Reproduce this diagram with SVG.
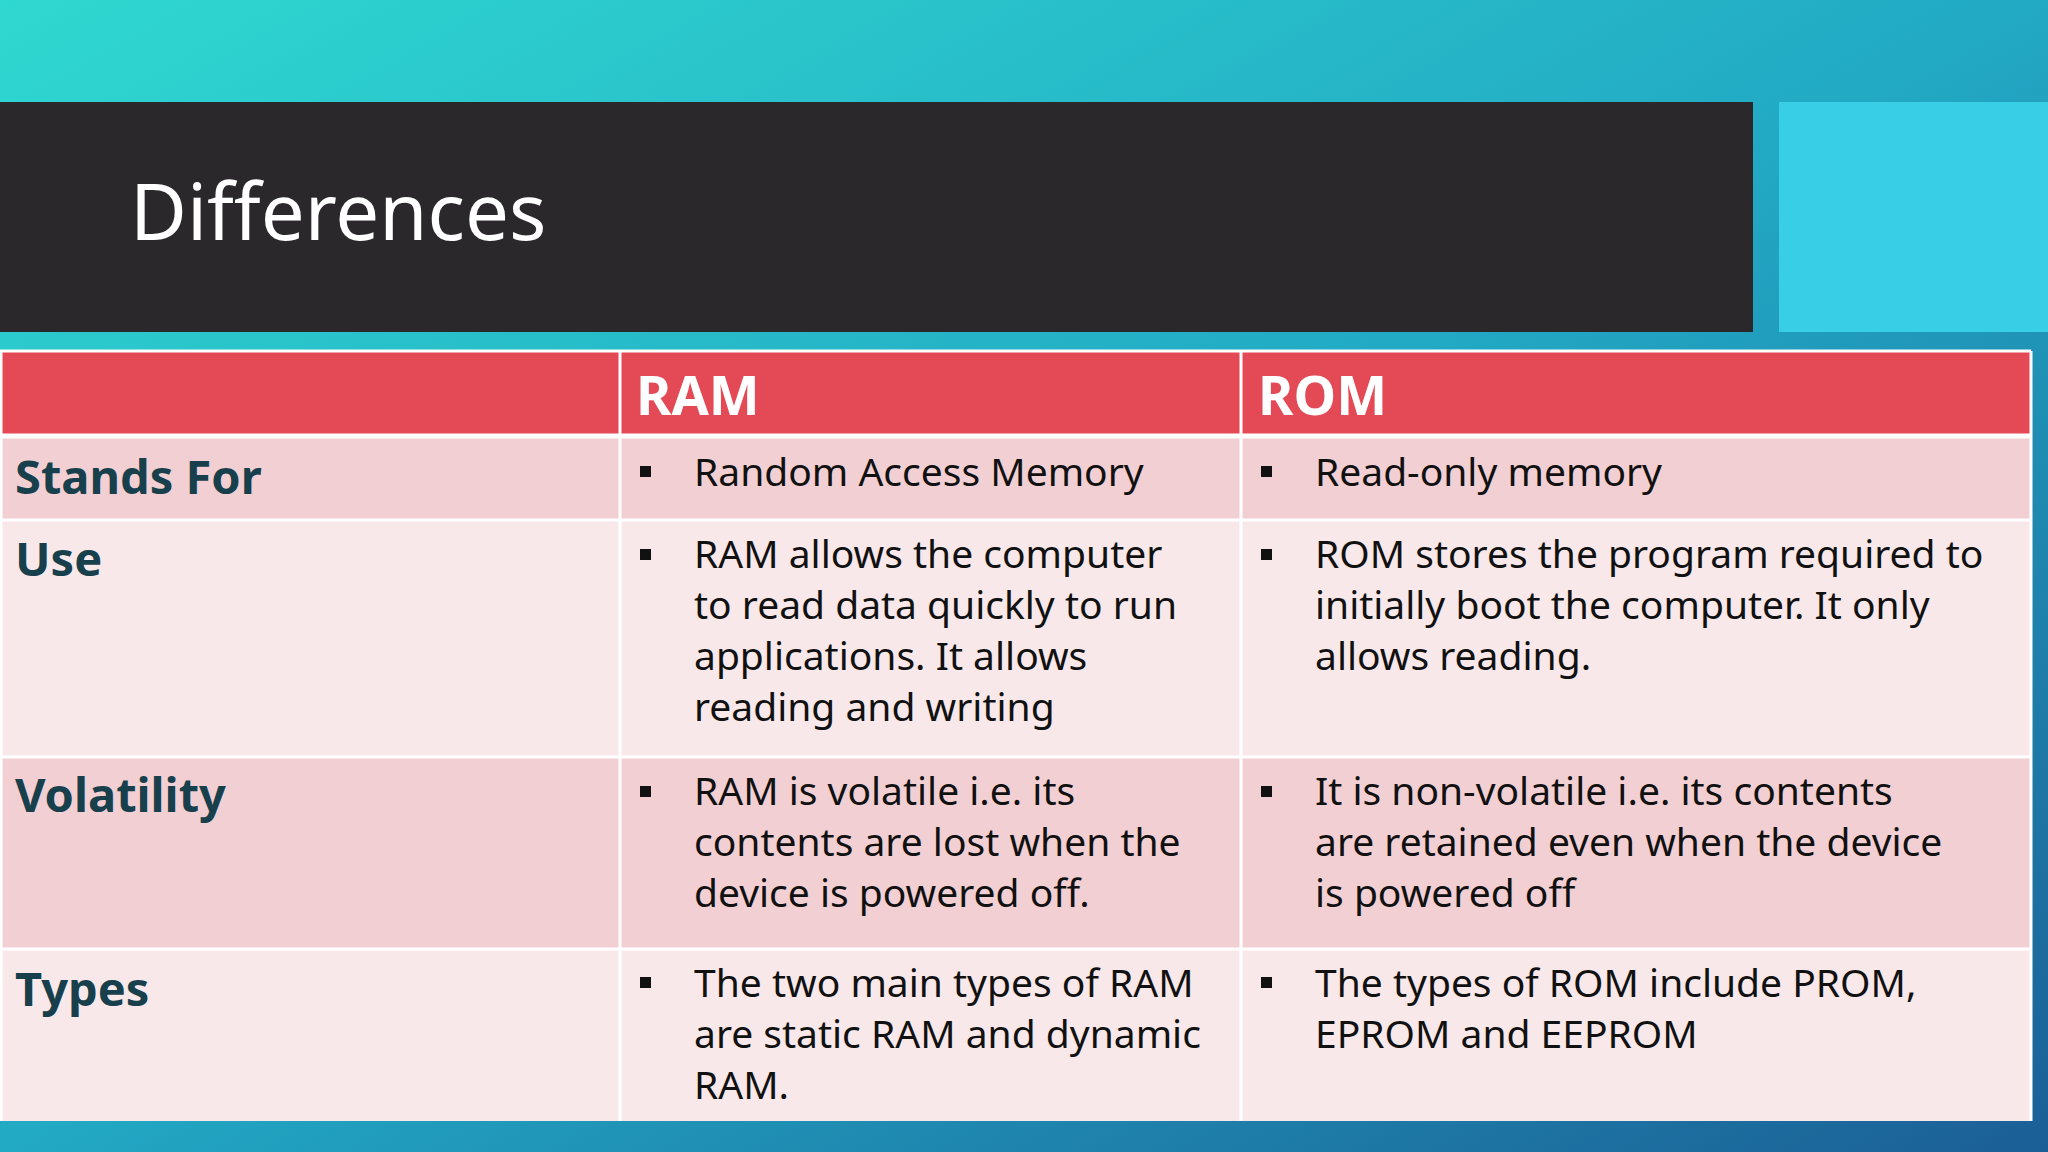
<svg xmlns="http://www.w3.org/2000/svg" width="2048" height="1152" viewBox="0 0 2048 1152">
<defs>
<linearGradient id="bg" x1="0" y1="0" x2="1" y2="1">
<stop offset="0" stop-color="#2fd8d0"/><stop offset="0.5" stop-color="#22a9c4"/><stop offset="1" stop-color="#1b5f96"/>
</linearGradient>
<style>
.b{font-family:"Noto Sans","DejaVu Sans",sans-serif;font-size:39px;fill:#111}
.l{font-family:"Noto Sans","DejaVu Sans",sans-serif;font-size:47px;font-weight:bold;fill:#173f4c}
.h{font-family:"Noto Sans","DejaVu Sans",sans-serif;font-size:54px;font-weight:bold;fill:#fff}
.sq{fill:#111}
.ln{stroke:#fff;stroke-width:3}
</style>
</defs>
<rect width="2048" height="1152" fill="url(#bg)"/>
<g id="title"><rect x="0" y="102" width="1753" height="230" fill="#2a282b"/>
<text x="130" y="240" font-family="Noto Sans,DejaVu Sans,sans-serif" font-size="78" fill="#fff">Differences</text></g>
<g id="square"><rect x="1779" y="102" width="269" height="230" fill="#38cfe6"/></g>
<g id="table">
<rect x="0" y="351" width="2031" height="85" fill="#e34a55"/>
<rect x="0" y="436" width="2031" height="84" fill="#f2cfd3"/>
<rect x="0" y="520" width="2031" height="237" fill="#f8e8ea"/>
<rect x="0" y="757" width="2031" height="192" fill="#f2cfd3"/>
<rect x="0" y="949" width="2031" height="172" fill="#f8e8ea"/>
<g class="ln"><line x1="0" y1="351" x2="2031" y2="351"/><line x1="0" y1="436" x2="2031" y2="436" stroke-width="5"/><line x1="0" y1="520" x2="2031" y2="520"/><line x1="0" y1="757" x2="2031" y2="757"/><line x1="0" y1="949" x2="2031" y2="949"/>
<line x1="620" y1="351" x2="620" y2="1121"/><line x1="1241" y1="351" x2="1241" y2="1121"/><line x1="2031" y1="351" x2="2031" y2="1121"/><line x1="1" y1="351" x2="1" y2="1121"/></g>
<text class="h" x="636" y="415">RAM</text><text class="h" x="1258" y="415">ROM</text>
<text class="l" x="15" y="494">Stands For</text>
<text class="l" x="15" y="576">Use</text>
<text class="l" x="15" y="812">Volatility</text>
<text class="l" x="15" y="1006">Types</text>
<rect class="sq" x="640" y="466" width="11" height="11"/><rect class="sq" x="1261" y="466" width="11" height="11"/>
<rect class="sq" x="640" y="549" width="11" height="11"/><rect class="sq" x="1261" y="549" width="11" height="11"/>
<rect class="sq" x="640" y="786" width="11" height="11"/><rect class="sq" x="1261" y="786" width="11" height="11"/>
<rect class="sq" x="640" y="977" width="11" height="11"/><rect class="sq" x="1261" y="977" width="11" height="11"/>
<text class="b" x="694" y="486">Random Access Memory</text>
<text class="b" x="1315" y="486">Read-only memory</text>
<text class="b" x="694" y="568">RAM allows the computer</text>
<text class="b" x="694" y="619">to read data quickly to run</text>
<text class="b" x="694" y="670">applications. It allows</text>
<text class="b" x="694" y="721">reading and writing</text>
<text class="b" x="1315" y="568">ROM stores the program required to</text>
<text class="b" x="1315" y="619">initially boot the computer. It only</text>
<text class="b" x="1315" y="670">allows reading.</text>
<text class="b" x="694" y="805">RAM is volatile i.e. its</text>
<text class="b" x="694" y="856">contents are lost when the</text>
<text class="b" x="694" y="907">device is powered off.</text>
<text class="b" x="1315" y="805">It is non-volatile i.e. its contents</text>
<text class="b" x="1315" y="856">are retained even when the device</text>
<text class="b" x="1315" y="907">is powered off</text>
<text class="b" x="694" y="997">The two main types of RAM</text>
<text class="b" x="694" y="1048">are static RAM and dynamic</text>
<text class="b" x="694" y="1099">RAM.</text>
<text class="b" x="1315" y="997">The types of ROM include PROM,</text>
<text class="b" x="1315" y="1048">EPROM and EEPROM</text>
</g>
</svg>
